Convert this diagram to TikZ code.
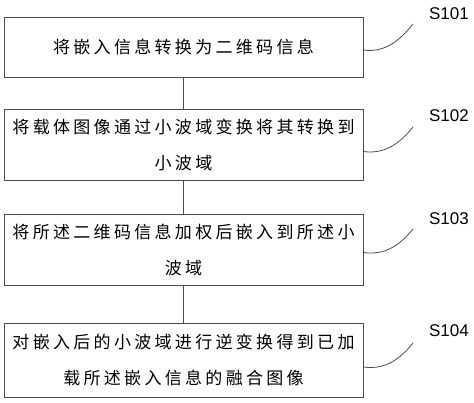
\documentclass[tikz,border=0pt]{standalone}
\usepackage{fontspec}
\setmainfont{Liberation Sans}
\newfontfamily\cjk[LetterSpace=19.5]{Noto Sans CJK SC}
\begin{document}
\begin{tikzpicture}[x=1pt,y=-1pt]
      \tikzset{stepbox/.style={rectangle,draw=black!70, line width=0.9pt, fill=none, minimum width=359pt, inner sep=0pt, align=center, font=\cjk\fontsize{17}{36}\selectfont}}
      \tikzset{leader/.style={draw=black!70, line width=0.8pt}}
      \tikzset{steplabel/.style={font=\fontsize{17}{19}\selectfont, inner sep=0pt}}
      \useasboundingbox (0,0) rectangle (474,402);
      % boxes
      \node[stepbox, minimum height=60pt] (s1) at (183.5,47) {将嵌入信息转换为二维码信息};
      \node[stepbox, minimum height=71pt] (s2) at (183.5,144.5) {将载体图像通过小波域变换将其转换到\\小波域};
      \node[stepbox, minimum height=71pt] (s3) at (183.5,249.5) {将所述二维码信息加权后嵌入到所述小\\波域};
      \node[stepbox, minimum height=74pt] (s4) at (183.5,360) {对嵌入后的小波域进行逆变换得到已加\\载所述嵌入信息的融合图像};
      \draw[leader] (s1) -- (s2);
      \draw[leader] (s2) -- (s3);
      \draw[leader] (s3) -- (s4);
      % step labels
      \node[steplabel] (l1) at (449,14) {S101};
      \node[steplabel] (l2) at (449,116) {S102};
      \node[steplabel] (l3) at (449,219) {S103};
      \node[steplabel] (l4) at (449,331) {S104};
      \coordinate (t1) at (413,24);
      \coordinate (t2) at (413,127);
      \coordinate (t3) at (413,229);
      \coordinate (t4) at (413,343);
      \draw[leader] ([yshift=-3pt]s1.east) .. controls +(22,3) and +(-13,16) .. (t1);
      \draw[leader] ([yshift=-7pt]s2.east) .. controls +(22,3) and +(-13,16) .. (t2);
      \draw[leader] ([yshift=-3pt]s3.east) .. controls +(22,3) and +(-13,16) .. (t3);
      \draw[leader] ([yshift=-7pt]s4.east) .. controls +(22,3) and +(-13,16) .. (t4);
    \end{tikzpicture}
\end{document}
